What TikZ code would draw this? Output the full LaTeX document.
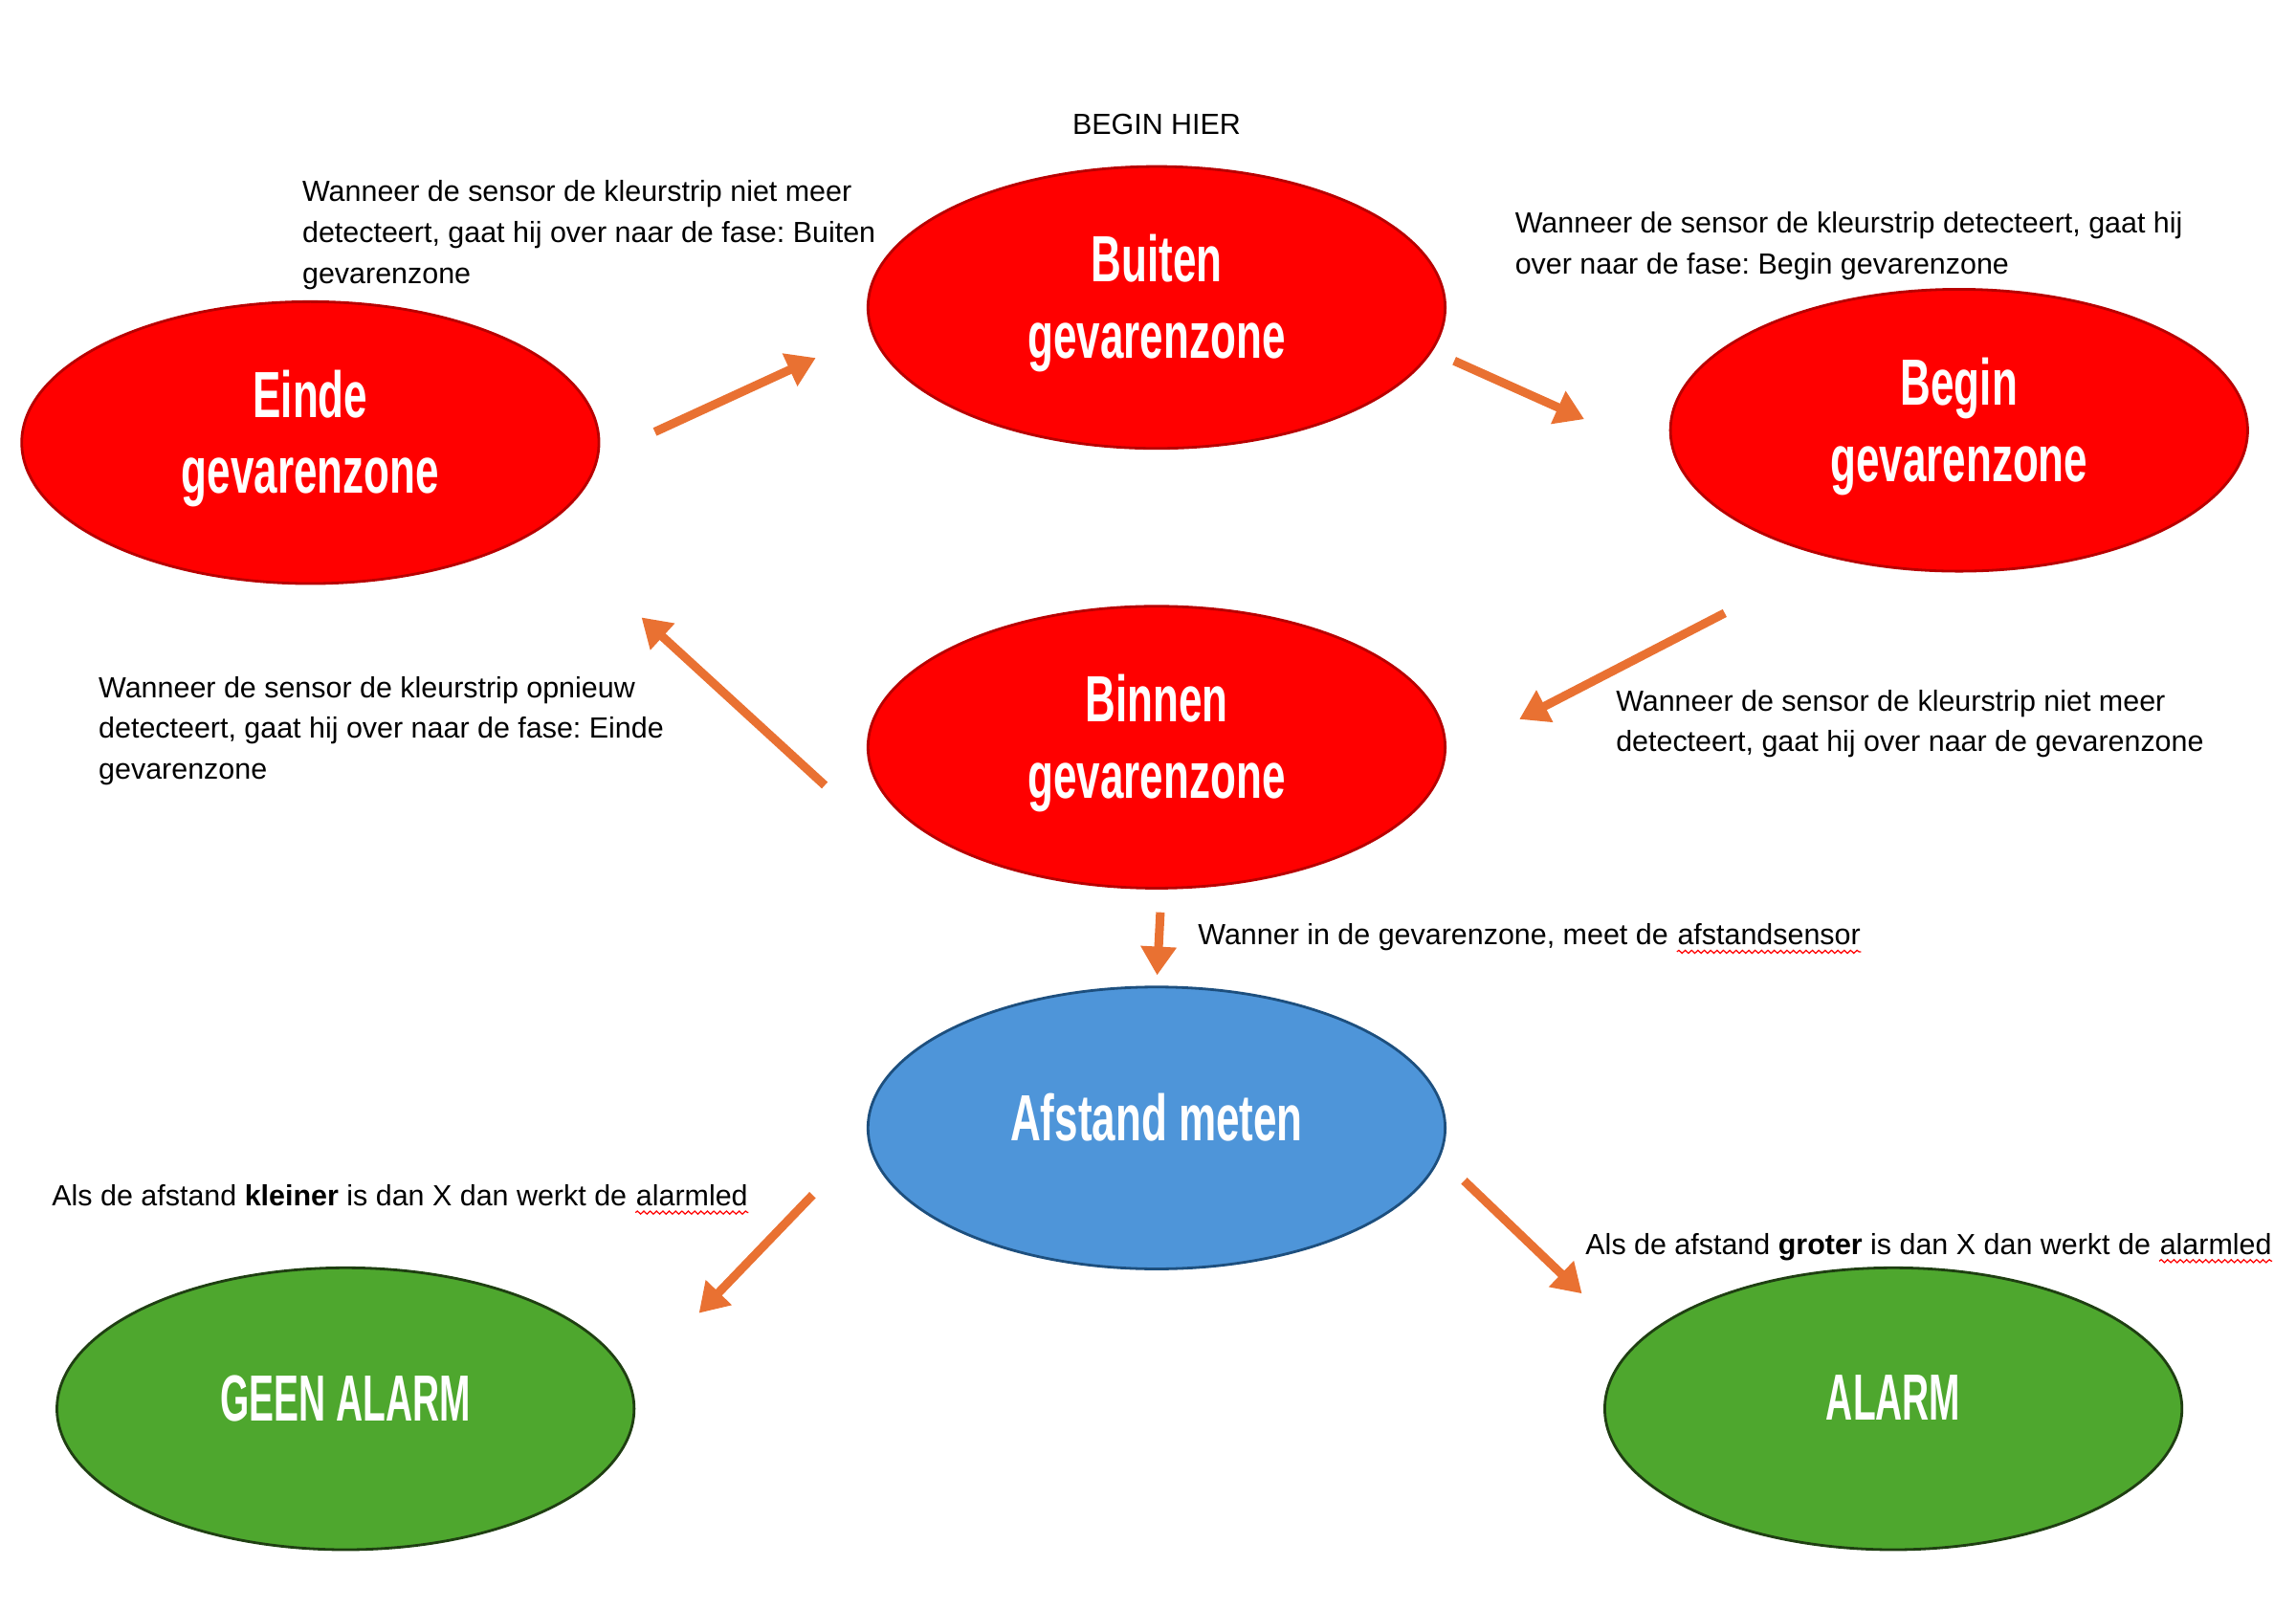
\documentclass[tikz,border=0pt]{standalone}
\usepackage{fontspec}
\setmainfont{Liberation Sans}
\newfontfamily\statefont[FakeStretch=0.645]{Liberation Sans}
\newfontfamily\alarmfont[FakeStretch=0.57]{Liberation Sans}
\usetikzlibrary{arrows.meta, shapes.geometric, decorations.pathmorphing}

\definecolor{zonered}{HTML}{FF0000}
\definecolor{zoneredline}{HTML}{B80000}
\definecolor{meetblue}{HTML}{4E95D9}
\definecolor{meetblueline}{HTML}{1D4F7E}
\definecolor{alarmgreen}{HTML}{4EA72E}
\definecolor{alarmgreenline}{HTML}{1F3F12}
\definecolor{flowcolor}{HTML}{E97132}

\newcommand{\spelled}[1]{\tikz[baseline=(w.base)]{\node[inner sep=0pt] (w) {#1};
  \draw[red, line width=0.35pt, decorate, decoration={snake, amplitude=0.45pt, segment length=1.9pt}]
    ([yshift=-2pt]w.base west) -- ([yshift=-2pt]w.base east);}}

\frenchspacing
\begin{document}
\begin{tikzpicture}[x=0.01cm, y=-0.01cm,
        zone/.style={ellipse, inner sep=0pt, minimum width=6.06cm, minimum height=2.96cm,
            line width=0.8pt, text=white, align=center, text depth=6.5pt,
            font=\statefont\bfseries\fontsize{19.5}{22.8}\selectfont},
        endzone/.style={zone, fill=alarmgreen, draw=alarmgreenline,
            font=\alarmfont\bfseries\fontsize{19.5}{22.8}\selectfont},
        note/.style={inner sep=0pt, anchor=north west, align=left,
            font=\fontsize{8.7}{12.2}\selectfont},
        flow/.style={draw=flowcolor, line width=2.6pt,
            -{Triangle[width=0.36cm, length=0.3cm]}}]

        \useasboundingbox (0,0) rectangle (2412,1690);

        \node[zone, fill=zonered, draw=zoneredline] (buiten) at (1215,323) {Buiten\\gevarenzone};
        \node[zone, fill=zonered, draw=zoneredline] (einde) at (326,465) {Einde\\gevarenzone};
        \node[zone, fill=zonered, draw=zoneredline] (begin) at (2058,452) {Begin\\gevarenzone};
        \node[zone, fill=zonered, draw=zoneredline] (binnen) at (1215,785) {Binnen\\gevarenzone};
        \node[zone, fill=meetblue, draw=meetblueline] (afstand) at (1215,1185) {Afstand meten};
        \node[endzone] (geen) at (363,1480) {GEEN ALARM};
        \node[endzone] (alarm) at (1989,1480) {ALARM};

        \node[font=\fontsize{8.7}{12.2}\selectfont, inner sep=0pt] (start) at (1215,131) {BEGIN HIER};
        \node[note] (naarbuiten) at (317,189) {Wanneer de sensor de kleurstrip niet meer\\detecteert, gaat hij over naar de fase: Buiten\\gevarenzone};
        \node[note] (naarbegin) at (1591,222) {Wanneer de sensor de kleurstrip detecteert, gaat hij\\over naar de fase: Begin gevarenzone};
        \node[note] (naareinde) at (103,710) {Wanneer de sensor de kleurstrip opnieuw\\detecteert, gaat hij over naar de fase: Einde\\gevarenzone};
        \node[note] (naarbinnen) at (1697,724) {Wanneer de sensor de kleurstrip niet meer\\detecteert, gaat hij over naar de gevarenzone};
        \node[note] (meten) at (1258,970) {Wanner in de gevarenzone, meet de \spelled{afstandsensor}};
        \node[note] (kleiner) at (54,1244) {Als de afstand \textbf{kleiner} is dan X dan werkt de \spelled{alarmled}};
        \node[note] (groter) at (1665,1295) {Als de afstand \textbf{groter} is dan X dan werkt de \spelled{alarmled}};

        \draw[flow, shorten <=0.65cm, shorten >=0.64cm] (einde.-3) -- (buiten.185);
        \draw[flow, shorten <=0.25cm, shorten >=1.05cm] (buiten.-9.3) -- (begin.186.2);
        \draw[flow, shorten <=1.26cm, shorten >=0.87cm] (begin.225.4) -- (binnen.-2.3);
        \draw[flow, shorten >=1.40cm] ([shift={(-44,40)}]binnen.west) -- (einde.-20.7);
        \draw[flow, shorten <=0.24cm, shorten >=0.11cm] (binnen.-88) -- (afstand.north);
        \draw[flow, shorten <=0.83cm, shorten >=1.03cm] (afstand.182.7) -- (geen.5.8);
        \draw[flow, shorten <=0.35cm, shorten >=0.77cm] (afstand.-6.4) -- (alarm.166.9);

    \end{tikzpicture}
\end{document}
